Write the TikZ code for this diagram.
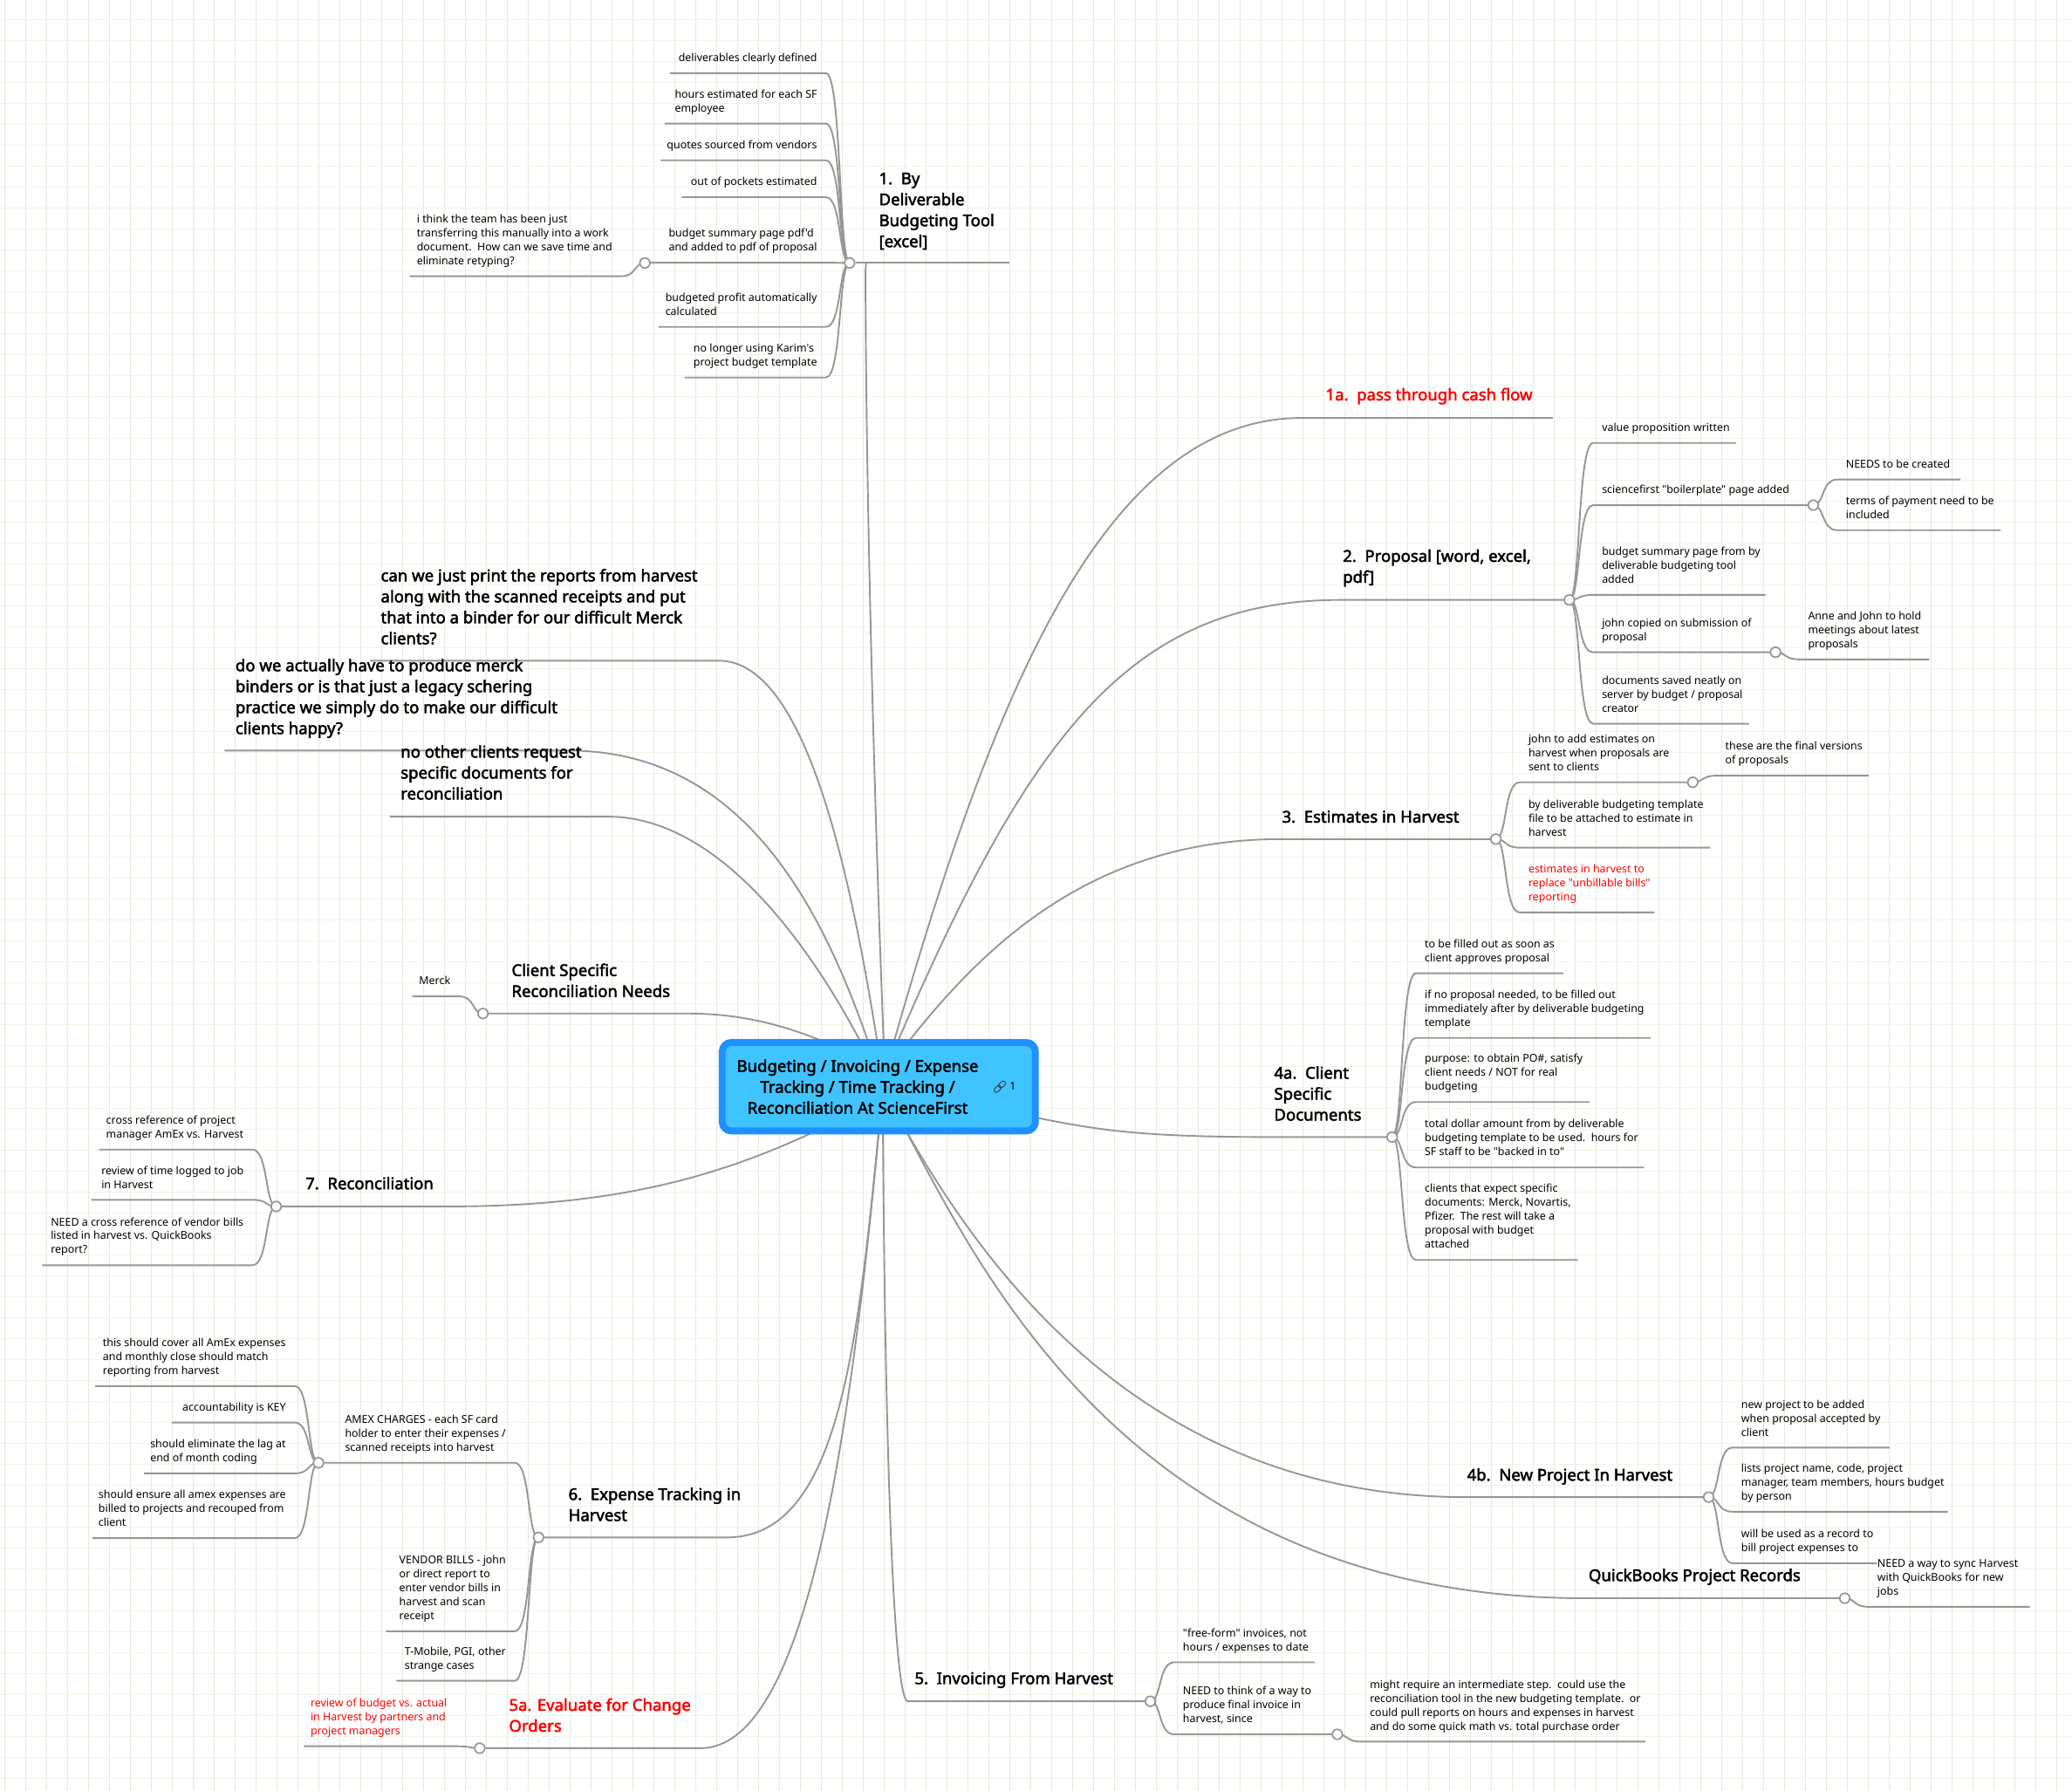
\documentclass[tikz,border=0pt]{standalone}
\usepackage{fontspec}
\setmainfont{Noto Sans}[Ligatures=TeXOff]
\newfontfamily\headfont{Noto Sans}[FakeBold=2.4,Ligatures=TeXOff]
\usetikzlibrary{calc}
\definecolor{linegray}{HTML}{969696}
\definecolor{gridv}{HTML}{E7EADC}
\definecolor{gridh}{HTML}{EFF6E4}
\definecolor{redtxt}{HTML}{FF0000}
\definecolor{centerfill}{HTML}{40C4FF}
\definecolor{centerborder}{HTML}{1E90FF}
\pgfdeclarelayer{gridlayer}
\pgfdeclarelayer{edgelayer}
\pgfsetlayers{gridlayer,edgelayer,main}
\tikzset{
  conn/.style={draw=linegray,line width=1.25pt},
  junction/.style={circle,draw=linegray,fill=white,line width=1.15pt,minimum size=7.6pt,inner sep=0pt},
  leaftext/.style={inner sep=0pt,align=left,font=\fontsize{8.2}{10.56}\selectfont},
  topictext/.style={inner sep=0pt,align=left,font=\fontsize{12.25}{15.85}\headfont},
  redone/.style={text=redtxt}
}
% [text style]{name}{parent}{y of underline}{far x}{text}
\newcommand\LeafR[6][]{%
  \path let \p1=(#3.center) in
    node[leaftext,#1,anchor=base west] (#2) at (\x1+24.5pt,-#4pt+8.8pt) {#6}
    coordinate (#2e) at (#5pt,-#4pt);
  \begin{pgfonlayer}{edgelayer}
  \draw[conn] let \p1=(#3.center) in (#3.center) .. controls (\x1+8.5pt,\y1) and (\x1+6pt,-#4pt) .. (\x1+18pt,-#4pt) -- (#2e);
  \end{pgfonlayer}}
\newcommand\LeafL[6][]{%
  \path let \p1=(#3.center) in
    node[leaftext,#1,anchor=base east] (#2) at (\x1-24.5pt,-#4pt+8.8pt) {#6}
    coordinate (#2e) at (#5pt,-#4pt);
  \begin{pgfonlayer}{edgelayer}
  \draw[conn] let \p1=(#3.center) in (#3.center) .. controls (\x1-8.5pt,\y1) and (\x1-6pt,-#4pt) .. (\x1-18pt,-#4pt) -- (#2e);
  \end{pgfonlayer}}
% [style]{name}{x of text}{y of last baseline}{text}
\newcommand\Topic[5][]{\node[topictext,#1,anchor=base west] (#2) at (#3pt,-#4pt) {#5};}
% main branch: {start}{c1}{c2}{end}{target}
\newcommand\Trunk[5]{\begin{pgfonlayer}{edgelayer}\draw[conn] (#1) .. controls (#2) and (#3) .. (#4) -- (#5);\end{pgfonlayer}}
\begin{document}
\begin{tikzpicture}[x=1pt,y=-1pt]
\useasboundingbox (0,0) rectangle (1568,1355.4);
\begin{pgfonlayer}{gridlayer}
\fill[white] (0,0) rectangle (1568,1355.4);
\foreach \i in {0,...,85} {\draw[gridh,line width=.7pt] (0,{15+15.845*\i}) -- (1568,{15+15.845*\i});}
\foreach \i in {0,...,99} {\draw[gridv,line width=.7pt] ({3.5+15.845*\i},0) -- ({3.5+15.845*\i},1355.4);}
\end{pgfonlayer}

% centre
\node[draw=centerborder,fill=centerfill,line width=5.2pt,rounded corners=7pt,minimum width=237pt,minimum height=67pt,inner sep=0pt] (root) at (665,822.4) {};
\node[inner sep=0pt,align=center,font=\fontsize{12.25}{15.85}\headfont] (roottext) at (649,822.4) {Budgeting / Invoicing / Expense\\Tracking / Time Tracking /\\Reconciliation At ScienceFirst};
\node[inner sep=0pt,font=\fontsize{8.2}{10}\selectfont] (linkn) at (766.5,822) {1};
\begin{scope}[shift={(756.6,822.4)},rotate=45,draw=black!80,line width=.6pt]
\draw[rounded corners=1.4pt] (-5.2,-1.7) rectangle (0.5,1.7);
\draw[rounded corners=1.4pt] (-0.5,-1.7) rectangle (5.2,1.7);
\end{scope}

% junctions
\node[junction] (j1) at (643,199) {};
\node[junction] (j1s) at (488,199) {};
\node[junction] (j2) at (1187.6,454) {};
\node[junction] (j2a) at (1372.2,382.3) {};
\node[junction] (j2b) at (1343.6,493.6) {};
\node[junction] (j3) at (1132,635) {};
\node[junction] (j3a) at (1281,592) {};
\node[junction] (j4a) at (1053.5,860.5) {};
\node[junction] (j4b) at (1293,1133) {};
\node[junction] (jqb) at (1396,1209.5) {};
\node[junction] (j5) at (870.5,1287.5) {};
\node[junction] (j5s) at (1012,1312.5) {};
\node[junction] (j5a) at (363,1323) {};
\node[junction] (j6) at (407.5,1163.5) {};
\node[junction] (j6a) at (241,1107) {};
\node[junction] (j7) at (209,913) {};
\node[junction] (jc) at (365.5,767) {};

% topics
\Topic{t1}{665}{187}{1.\ \ By\\Deliverable\\Budgeting Tool\\{[excel]}}
\Topic[redone]{t1a}{1003}{303}{1a.\ \ pass through cash flow}
\Topic{t2}{1016}{441}{2.\ \ Proposal [word, excel,\\pdf]}
\Topic{t3}{970}{622.5}{3.\ \ Estimates in Harvest}
\Topic{t4a}{964}{848}{4a.\ \ Client\\Specific\\Documents}
\Topic{t4b}{1110}{1120.5}{4b.\ \ New Project In Harvest}
\Topic{tqb}{1202}{1196.5}{QuickBooks Project Records}
\Topic{t5}{692}{1274.5}{5.\ \ Invoicing From Harvest}
\Topic[redone]{t5a}{385}{1310.5}{5a. Evaluate for Change\\Orders}
\Topic{t6}{430}{1151}{6.\ \ Expense Tracking in\\Harvest}
\Topic{t7}{231}{900}{7.\ \ Reconciliation}
\Topic{tc}{387}{754.5}{Client Specific\\Reconciliation Needs}
\Topic{tno}{303}{605}{no other clients request\\specific documents for\\reconciliation}
\Topic{tdo}{178}{555.5}{do we actually have to produce merck\\binders or is that just a legacy schering\\practice we simply do to make our difficult\\clients happy?}
\Topic{tcan}{288}{487.5}{can we just print the reports from harvest\\along with the scanned receipts and put\\that into a binder for our difficult Merck\\clients?}

\coordinate (t1e) at (764,199);
\coordinate (t1j) at (655.4,199);
\coordinate (t1ae) at (1175,316.3);
\coordinate (tnoe) at (295,618);
\coordinate (tdoe) at (170,568);
\coordinate (tcane) at (280,500);

% trunks
\begin{pgfonlayer}{edgelayer}
\draw[conn] (j1) -- (t1e);
\end{pgfonlayer}
\Trunk{670,822}{661,600}{655,350}{655,205}{t1j}
\Trunk{667,822}{745,542}{830,316.3}{985,316.3}{t1ae}
\Trunk{665,822}{774,562}{850,454}{1015,454}{j2}
\Trunk{660,825}{725,735}{810,635}{970,635}{j3}
\Trunk{780,845}{830,855}{860,860.5}{964,860.5}{j4a}
\Trunk{667,822}{720,920}{840,1133}{1110,1133}{j4b}
\Trunk{667,822}{725,920}{830,1209.5}{1200,1209.5}{jqb}
\Trunk{668,822}{669,1050}{675,1287.5}{687,1287.5}{j5}
\Trunk{668,825}{645,1080}{612,1323}{530,1323}{j5a}
\Trunk{668,825}{650,1010}{638,1163.5}{550,1163.5}{j6}
\Trunk{640,845}{560,885}{480,913}{340,913}{j7}
\Trunk{660,805}{610,780}{570,767}{520,767}{jc}
\Trunk{668,822}{625,730}{550,618}{460,618}{tnoe}
\Trunk{668,822}{630,700}{570,568}{430,568}{tdoe}
\Trunk{669,822}{645,660}{610,500}{544,500}{tcane}

% node 1
\LeafL{a1}{j1}{55.4}{507}{deliverables clearly defined}
\LeafL{a2}{j1}{93.5}{503}{hours estimated for each SF\\employee}
\LeafL{a3}{j1}{121.3}{500}{quotes sourced from vendors}
\LeafL{a4}{j1}{149.2}{516}{out of pockets estimated}
\LeafL{a5}{j1}{198.8}{488}{budget summary page pdf'd\\and added to pdf of proposal}
\LeafL{a7}{j1}{247.4}{498.5}{budgeted profit automatically\\calculated}
\LeafL{a8}{j1}{285.7}{518}{no longer using Karim's\\project budget template}
\LeafL{a6}{j1s}{209}{310}{i think the team has been just\\transferring this manually into a work\\document.\ \ How can we save time and\\eliminate retyping?}

% node 2
\LeafR{b1}{j2}{335.2}{1313.8}{value proposition written}
\LeafR{b2}{j2}{382.3}{1372.2}{sciencefirst "boilerplate" page added}
\LeafR{b3}{j2}{450.2}{1336}{budget summary page from by\\deliverable budgeting tool\\added}
\LeafR{b4}{j2}{493.6}{1343.6}{john copied on submission of\\proposal}
\LeafR{b5}{j2}{547.7}{1323.4}{documents saved neatly on\\server by budget / proposal\\creator}
\LeafR{b6}{j2a}{362.9}{1483.5}{NEEDS to be created}
\LeafR{b7}{j2a}{401.2}{1514}{terms of payment need to be\\included}
\LeafR{b8}{j2b}{499}{1460}{Anne and John to hold\\meetings about latest\\proposals}

% node 3
\LeafR{c1}{j3}{592}{1281}{john to add estimates on\\harvest when proposals are\\sent to clients}
\LeafR{c2}{j3}{641.5}{1294}{by deliverable budgeting template\\file to be attached to estimate in\\harvest}
\LeafR[redone]{c3}{j3}{690.5}{1252}{estimates in harvest to\\replace "unbillable bills"\\reporting}
\LeafR{c4}{j3a}{587}{1414}{these are the final versions\\of proposals}

% node 4a
\LeafR{d1}{j4a}{736.5}{1183}{to be filled out as soon as\\client approves proposal}
\LeafR{d2}{j4a}{785.5}{1249}{if no proposal needed, to be filled out\\immediately after by deliverable budgeting\\template}
\LeafR{d3}{j4a}{834}{1203}{purpose: to obtain PO\#, satisfy\\client needs / NOT for real\\budgeting}
\LeafR{d4}{j4a}{883.5}{1244}{total dollar amount from by deliverable\\budgeting template to be used.\ \ hours for\\SF staff to be "backed in to"}
\LeafR{d5}{j4a}{953.5}{1194}{clients that expect specific\\documents: Merck, Novartis,\\Pfizer.\ \ The rest will take a\\proposal with budget\\attached}

% node 4b
\LeafR{e1}{j4b}{1095.5}{1430}{new project to be added\\when proposal accepted by\\client}
\LeafR{e2}{j4b}{1144}{1474}{lists project name, code, project\\manager, team members, hours budget\\by person}
\LeafR{e3}{j4b}{1183}{1420}{will be used as a record to\\bill project expenses to}

% QuickBooks
\LeafR{f1}{jqb}{1216}{1536}{NEED a way to sync Harvest\\with QuickBooks for new\\jobs}

% node 5
\LeafR{g1}{j5}{1258}{995}{"free-form" invoices, not\\hours / expenses to date}
\LeafR{g2}{j5}{1312.5}{1012}{NEED to think of a way to\\produce final invoice in\\harvest, since}
\LeafR{g3}{j5s}{1318}{1245}{might require an intermediate step.\ \ could use the\\reconciliation tool in the new budgeting template.\ \ or\\could pull reports on hours and expenses in harvest\\and do some quick math vs. total purchase order}

% node 5a
\LeafL[redone]{h1}{j5a}{1321.5}{230}{review of budget vs. actual\\in Harvest by partners and\\project managers}

% node 6
\LeafL{i1}{j6}{1107}{241}{AMEX CHARGES - each SF card\\holder to enter their expenses /\\scanned receipts into harvest}
\LeafL{i2}{j6}{1234.5}{292}{VENDOR BILLS - john\\or direct report to\\enter vendor bills in\\harvest and scan\\receipt}
\LeafL{i3}{j6}{1272}{300}{T-Mobile, PGI, other\\strange cases}
\LeafL{k1}{j6a}{1049}{72}{this should cover all AmEx expenses\\and monthly close should match\\reporting from harvest}
\LeafL{k2}{j6a}{1076.5}{130}{accountability is KEY}
\LeafL{k3}{j6a}{1115}{109}{should eliminate the lag at\\end of month coding}
\LeafL{k4}{j6a}{1164}{70}{should ensure all amex expenses are\\billed to projects and recouped from\\client}

% node 7
\LeafL{m1}{j7}{870}{75}{cross reference of project\\manager AmEx vs. Harvest}
\LeafL{m2}{j7}{908}{69}{review of time logged to job\\in Harvest}
\LeafL{m3}{j7}{957.5}{32}{NEED a cross reference of vendor bills\\listed in harvest vs. QuickBooks\\report?}

% client
\LeafL{n1}{jc}{754}{312}{Merck}
\end{tikzpicture}
\end{document}
